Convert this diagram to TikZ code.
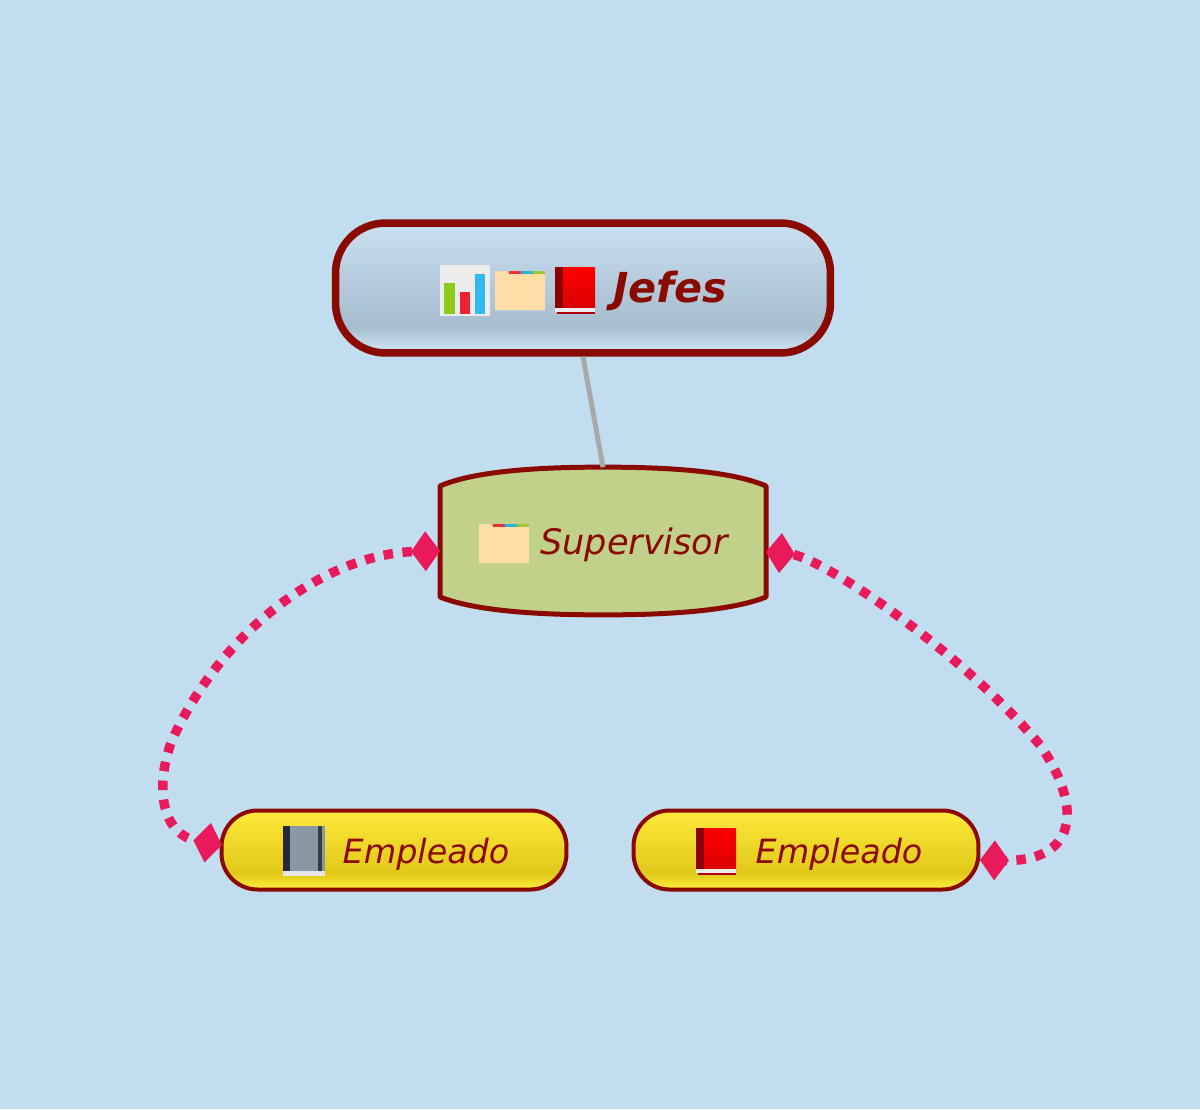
\documentclass[tikz,border=0pt]{standalone}
\usepackage{fontspec}
\setmainfont{DejaVu Sans}
\usetikzlibrary{arrows.meta}

\definecolor{skyback}{HTML}{C3DDF0}
\definecolor{darkred}{HTML}{8B0A00}
\definecolor{linkpink}{HTML}{E81A5C}
\definecolor{linkgrey}{HTML}{A9A9A9}
\definecolor{oliveback}{HTML}{C1D18A}
\definecolor{steellow}{HTML}{C6DDEE}
\definecolor{steelmid}{HTML}{A6BDCF}
\definecolor{steeltop}{HTML}{CADFF0}
\definecolor{yellowlow}{HTML}{FCE737}
\definecolor{yellowmid}{HTML}{E0C818}
\definecolor{yellowtop}{HTML}{FDE93C}
\definecolor{folderback}{HTML}{FFDDA6}
\definecolor{tabred}{HTML}{E8323C}
\definecolor{tabblue}{HTML}{2FB4D8}
\definecolor{tabgreen}{HTML}{9CC832}
\definecolor{bargreen}{HTML}{8CCC18}
\definecolor{barred}{HTML}{EE2233}
\definecolor{barblue}{HTML}{30B8F0}
\definecolor{covergrey}{HTML}{8899A3}
\definecolor{spinegrey}{HTML}{26283A}

\pgfdeclareverticalshading{steelshade}{100bp}{
  color(0bp)=(steellow); color(28bp)=(steellow); color(35bp)=(steelmid);
  color(75bp)=(steeltop); color(100bp)=(steeltop)}
\pgfdeclareverticalshading{yellowshade}{100bp}{
  color(0bp)=(yellowlow); color(27bp)=(yellowlow); color(35bp)=(yellowmid);
  color(75bp)=(yellowtop); color(100bp)=(yellowtop)}

\tikzset{
  pics/bookicon/.style={code={
    \fill[top color=red,bottom color=red!85!black] (-20,-23) rectangle (20,18);
    \fill[red!55!black] (-20,-23) rectangle (-12,18);
    \fill[white!92!black] (-20,18) rectangle (20,22);
    \fill[red!70!black] (-18,22) rectangle (20,24);
  }},
  pics/notebookicon/.style={code={
    \fill[covergrey] (-21,-25) rectangle (21,20);
    \fill[spinegrey] (-21,-25) rectangle (-14,20);
    \fill[black!60!covergrey] (14,-25) rectangle (18,20);
    \fill[white!90!black] (-21,20) rectangle (21,25);
  }},
  pics/foldericon/.style={code={
    \fill[folderback] (-25,-19) -- (-14,-19) -- (-11,-16) -- (25,-16) -- (25,20) -- (-25,20) -- cycle;
    \fill[tabred] (-11,-19) rectangle (1,-16);
    \fill[tabblue] (1,-19) rectangle (13,-16);
    \fill[tabgreen] (13,-19) rectangle (25,-16);
  }},
  pics/charticon/.style={code={
    \fill[gray!15] (-25,-25) rectangle (25,26);
    \fill[bargreen] (-21,-7) rectangle (-10.5,24);
    \fill[barred] (-5.5,2) rectangle (5,24);
    \fill[barblue] (9.5,-16.5) rectangle (19.5,24);
  }}
}

\begin{document}
\begin{tikzpicture}
  [x=0.02cm,y=-0.02cm,
   bossbox/.style={rectangle,rounded corners=1cm,draw=darkred,line width=0.15cm,shading=steelshade,minimum width=9.9cm,minimum height=2.6cm},
   workerbox/.style={rectangle,rounded corners=0.72cm,draw=darkred,line width=0.08cm,shading=yellowshade,minimum width=6.9cm,minimum height=1.58cm},
   barrelbox/.style={rectangle,minimum width=6.5cm,minimum height=2.94cm},
   caption/.style={text=darkred,font=\itshape\fontsize{19}{19}\selectfont,inner sep=0pt},
   softlink/.style={draw=linkgrey,line width=0.1cm},
   dashlink/.style={draw=linkpink,line width=0.19cm,dash pattern=on 0.19cm off 0.19cm,dash phase=-0.1cm,
     {Diamond[length=0.58cm,width=0.8cm]}-{Diamond[length=0.58cm,width=0.8cm]}}]
  \fill[skyback] (0,0) rectangle (1200,1109);
  \useasboundingbox (0,0) rectangle (1200,1109);

  \node[bossbox] (jefes) at (583,288) {};
  \node[barrelbox] (super) at (603,541) {};
  \node[workerbox] (empa) at (394,850) {};
  \node[workerbox] (empb) at (806,850) {};

  % barrel outline of the middle box
  \draw[draw=darkred,fill=oliveback,line width=0.1cm,line join=round]
    (440,486) .. controls (470,473) and (525,467) .. (super.north)
    .. controls (681,467) and (736,473) .. (766,486) -- (766,597)
    .. controls (736,609) and (681,615) .. (super.south)
    .. controls (525,615) and (470,609) .. (440,597) -- cycle;

  \pic at (465,290) {charticon};
  \pic at (520,290) {foldericon};
  \pic at (575,290) {bookicon};
  \pic at (504,543) {foldericon};
  \pic at (304,851) {notebookicon};
  \pic at (716,851) {bookicon};

  \node[caption,font=\itshape\bfseries\fontsize{23.5}{23.5}\selectfont] (tjefes) at (670,291) {Jefes};
  \node[caption,font=\itshape\fontsize{20}{20}\selectfont] (tsuper) at (634,545) {Supervisor};
  \node[caption] (tempa) at (426,854) {Empleado};
  \node[caption] (tempb) at (839,854) {Empleado};

  \coordinate (sl) at (440,551);
  \coordinate (sr) at (766,552);
  \coordinate (al) at (222,845);
  \coordinate (br) at (980,860);

  \draw[softlink] (jefes.south) -- (super.north);
  \draw[dashlink] (sl) .. controls (330,553) and (225,625) .. (172,740)
    .. controls (155,785) and (160,835) .. (al);
  \draw[dashlink] (sr) .. controls (820,556) and (960,650) .. (1040,745)
    .. controls (1085,810) and (1075,862) .. (br);
\end{tikzpicture}
\end{document}
